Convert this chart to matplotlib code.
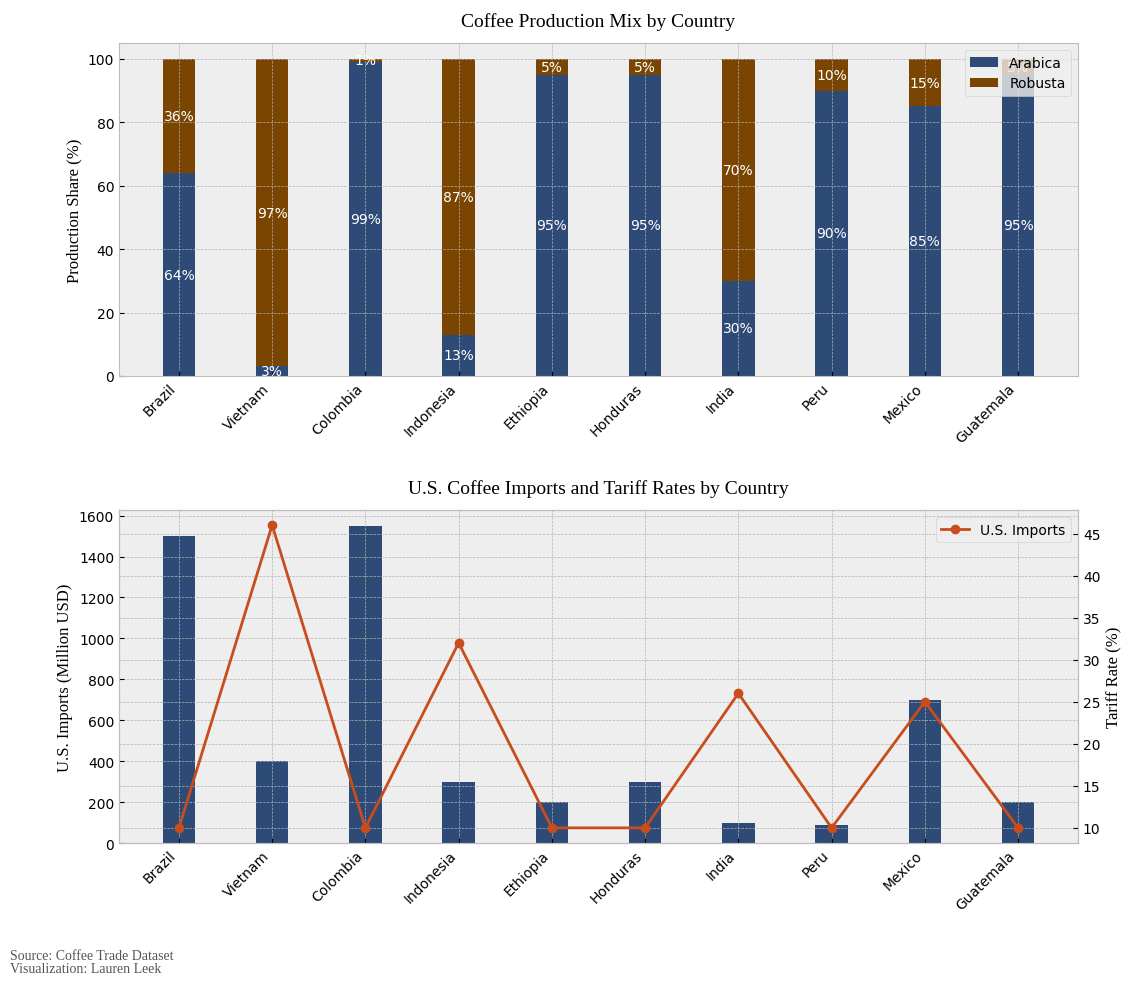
import matplotlib
matplotlib.use('Agg')
import matplotlib.pyplot as plt
import numpy as np

# data
countries = ['Brazil', 'Vietnam', 'Colombia', 'Indonesia', 'Ethiopia',
             'Honduras', 'India', 'Peru', 'Mexico', 'Guatemala']
arabica = [64, 3, 99, 13, 95, 95, 30, 90, 85, 95]
robusta = [36, 97, 1, 87, 5, 5, 70, 10, 15, 5]
imports_musd = [1500, 400, 1550, 300, 200, 300, 100, 90, 700, 200]
tariff_pct = [10, 46, 10, 32, 10, 10, 26, 10, 25, 10]

plt.style.use('bmh')
serif = 'Liberation Serif'
blue = '#2e4a76'
brown = '#7a4500'
orange = '#c94c1c'

fig = plt.figure(figsize=(11.32, 9.87), dpi=100)
ax1 = fig.add_axes([119/1132, 1 - 377/987, 959/1132, 333/987])
ax2 = fig.add_axes([119/1132, 1 - 844/987, 959/1132, 333/987])

x = np.arange(len(countries))
width = 0.35

# top: stacked production mix
ax1.bar(x, arabica, width, color=blue, label='Arabica')
ax1.bar(x, robusta, width, bottom=arabica, color=brown, label='Robusta')
for i in range(len(countries)):
    ax1.text(x[i], arabica[i] / 2, f'{arabica[i]}%', ha='center', va='center',
             color='white', fontsize=10)
    ax1.text(x[i], arabica[i] + robusta[i] / 2, f'{robusta[i]}%', ha='center',
             va='center', color='white', fontsize=10)
ax1.set_title('Coffee Production Mix by Country', family=serif, fontsize=14, pad=12)
ax1.set_ylabel('Production Share (%)', family=serif, fontsize=12)
ax1.set_xticks(x)
ax1.set_xticklabels(countries, rotation=45, ha='right')
ax1.legend(loc='upper right')

# bottom: imports with tariff line on twin axis
ax2.bar(x, imports_musd, width, color=blue)
ax2.set_ylabel('U.S. Imports (Million USD)', family=serif, fontsize=12)
ax2.set_title('U.S. Coffee Imports and Tariff Rates by Country', family=serif,
              fontsize=14, pad=12)
ax2.set_xticks(x)
ax2.set_xticklabels(countries, rotation=45, ha='right')

ax3 = ax2.twinx()
ax3.plot(x, tariff_pct, color=orange, marker='o', linewidth=2, label='U.S. Imports')
ax3.set_ylabel('Tariff Rate (%)', family=serif, fontsize=12)
ax3.legend(loc='upper right')

fig.text(10/1132, 1 - 963/987, 'Source: Coffee Trade Dataset\nVisualization: Lauren Leek',
         family=serif, fontsize=10, color='#555555', va='center', linespacing=1.0)

fig.savefig('out.png', dpi=100)
